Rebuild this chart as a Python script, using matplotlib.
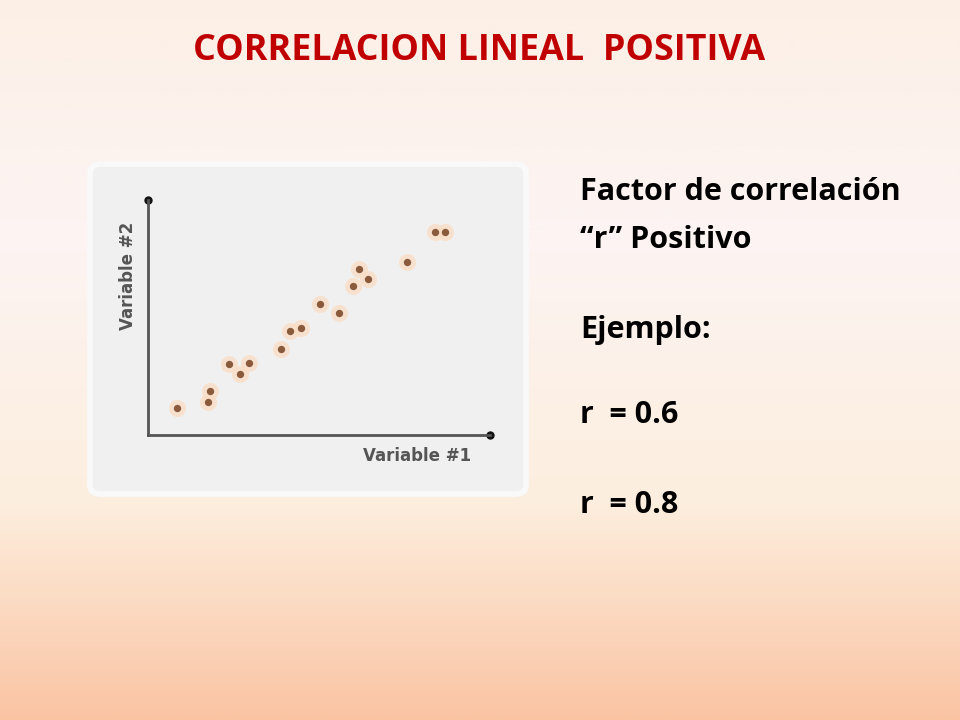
import numpy as np
import matplotlib
matplotlib.use("Agg")
import matplotlib.pyplot as plt
from matplotlib.colors import LinearSegmentedColormap
from matplotlib.patches import FancyBboxPatch

# donnees du nuage de points
var1 = [8.3, 17.5, 18.2, 23.6, 26.8, 29.4, 38.8, 41.6, 44.6, 50.3, 55.8, 59.8, 61.8, 64.4, 75.6, 83.8, 86.8]
var2 = [7.8, 9.6, 13.0, 20.7, 17.8, 21.1, 25.1, 30.5, 31.2, 38.2, 35.8, 43.7, 48.5, 45.5, 50.6, 59.3, 59.3]

titre = "CORRELACION LINEAL  POSITIVA"
lignes = ["Factor de correlación", "\u201cr\u201d Positivo", "Ejemplo:", "r  = 0.6", "r  = 0.8"]
lignes_y = [192, 240, 330, 415, 505]

W, H = 960, 720
fig = plt.figure(figsize=(9.6, 7.2), dpi=100)

# fond degrade
bg = fig.add_axes([0, 0, 1, 1], zorder=0)
cmap = LinearSegmentedColormap.from_list(
    "fond", [(0, "#fcf0e6"), (0.33, "#fcf4f3"), (0.7, "#fdeede"), (1, "#fac4a3")])
grad = np.linspace(0, 1, 256).reshape(-1, 1)
bg.imshow(grad, aspect="auto", cmap=cmap, extent=[0, 1, 0, 1], origin="upper")
bg.set_xlim(0, 1)
bg.set_ylim(0, 1)
bg.axis("off")

# panneau gris de l'image
panneau = FancyBboxPatch((90 / W, 1 - 494 / H), 436 / W, 330 / H,
                         boxstyle="round,pad=0,rounding_size=0.012",
                         transform=fig.transFigure, facecolor="#f0f0f0",
                         edgecolor="#f9f9f9", linewidth=4, zorder=1)
fig.patches.append(panneau)

fig.text(479 / W, 1 - 51 / H, titre, ha="center", va="center", color="#c00000",
         fontsize=25.8, fontweight="bold", family="Open Sans")

for t, y in zip(lignes, lignes_y):
    fig.text(580 / W, 1 - y / H, t, ha="left", va="center", color="black",
             fontsize=22, fontweight="bold", family="Open Sans")

# axes du nuage de points
x0, x1, y0, y1 = 148.3, 490, 435, 200
ax = fig.add_axes([x0 / W, 1 - y0 / H, (x1 - x0) / W, (y0 - y1) / H], zorder=2)
ax.patch.set_alpha(0)
ax.set_xlim(0, 100)
ax.set_ylim(0, 68.7)
for s in ["top", "right"]:
    ax.spines[s].set_visible(False)
for s in ["left", "bottom"]:
    ax.spines[s].set_color("#555555")
    ax.spines[s].set_linewidth(2)
ax.set_xticks([])
ax.set_yticks([])
ax.plot([100], [0], "o", color="#111111", ms=5, clip_on=False)
ax.plot([0], [68.7], "o", color="#111111", ms=5, clip_on=False)

ax.scatter(var1, var2, s=150, color="#fbdcc0", alpha=0.7, linewidths=0, zorder=3)
ax.scatter(var1, var2, s=28, color="#8a5a3c", linewidths=0, zorder=4)

fig.text(417 / W, 1 - 456 / H, "Variable #1", ha="center", va="center",
         color="#555555", fontsize=12, fontweight="bold")
fig.text(128 / W, 1 - 276 / H, "Variable #2", ha="center", va="center",
         color="#555555", fontsize=12, fontweight="bold", rotation=90)

fig.savefig("out.png", dpi=100)
